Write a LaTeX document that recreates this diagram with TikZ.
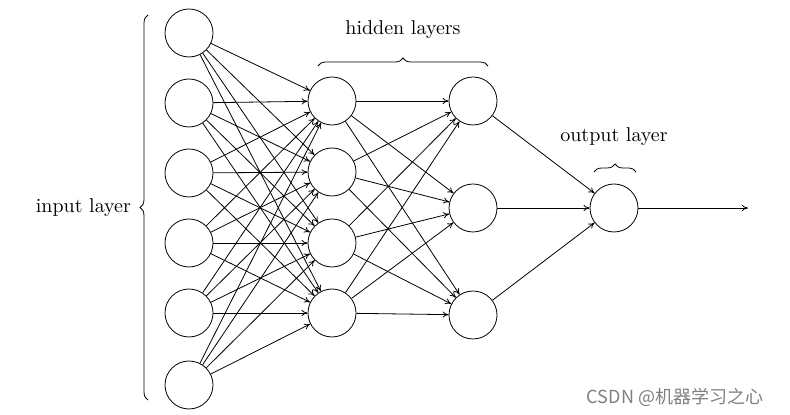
\documentclass[tikz,border=0pt]{standalone}
\usepackage{fontspec}
\newfontfamily\cjk{Noto Sans CJK SC}
\usetikzlibrary{decorations.pathreplacing,arrows.meta}
\begin{document}
\begin{tikzpicture}[x=0.5pt,y=-0.5pt,
  neuron/.style={circle,draw,minimum size=24pt,inner sep=0pt},
  conn/.style={-{To[length=3pt,width=3pt]},line width=0.4pt},
  brace/.style={decorate,decoration={brace,amplitude=4pt}}]
\useasboundingbox (0,0) rectangle (790,415);
\foreach \i/\y in {1/33,2/103,3/173,4/243,5/313,6/385} \node[neuron] (I\i) at (189,\y) {};
\foreach \i/\y in {1/101,2/172,3/243,4/313} \node[neuron] (A\i) at (332,\y) {};
\foreach \i/\y in {1/101,2/208,3/315} \node[neuron] (B\i) at (473,\y) {};
\node[neuron] (O) at (614,208) {};
\coordinate (E) at (748,208);
\foreach \i in {1,...,6} \foreach \j in {1,...,4} \draw[conn] (I\i) -- (A\j);
\foreach \i in {1,...,4} \foreach \j in {1,...,3} \draw[conn] (A\i) -- (B\j);
\foreach \i in {1,...,3} \draw[conn] (B\i) -- (O);
\draw[conn] (O) -- (E);
\coordinate (b1) at (148,400); \coordinate (b2) at (148,15);
\draw[brace] (b1) -- (b2) node[midway,left=5pt] (il) {input layer};
\coordinate (h1) at (318,66); \coordinate (h2) at (488,66);
\draw[brace] (h1) -- (h2);
\node (hl) at (403,30) {hidden layers};
\coordinate (o1) at (594,172); \coordinate (o2) at (636,172);
\draw[brace] (o1) -- (o2);
\node (ol) at (614,137) {output layer};
\node[text=gray,font=\cjk\small] (wm) at (675,397) {CSDN @机器学习之心};
\end{tikzpicture}
\end{document}
